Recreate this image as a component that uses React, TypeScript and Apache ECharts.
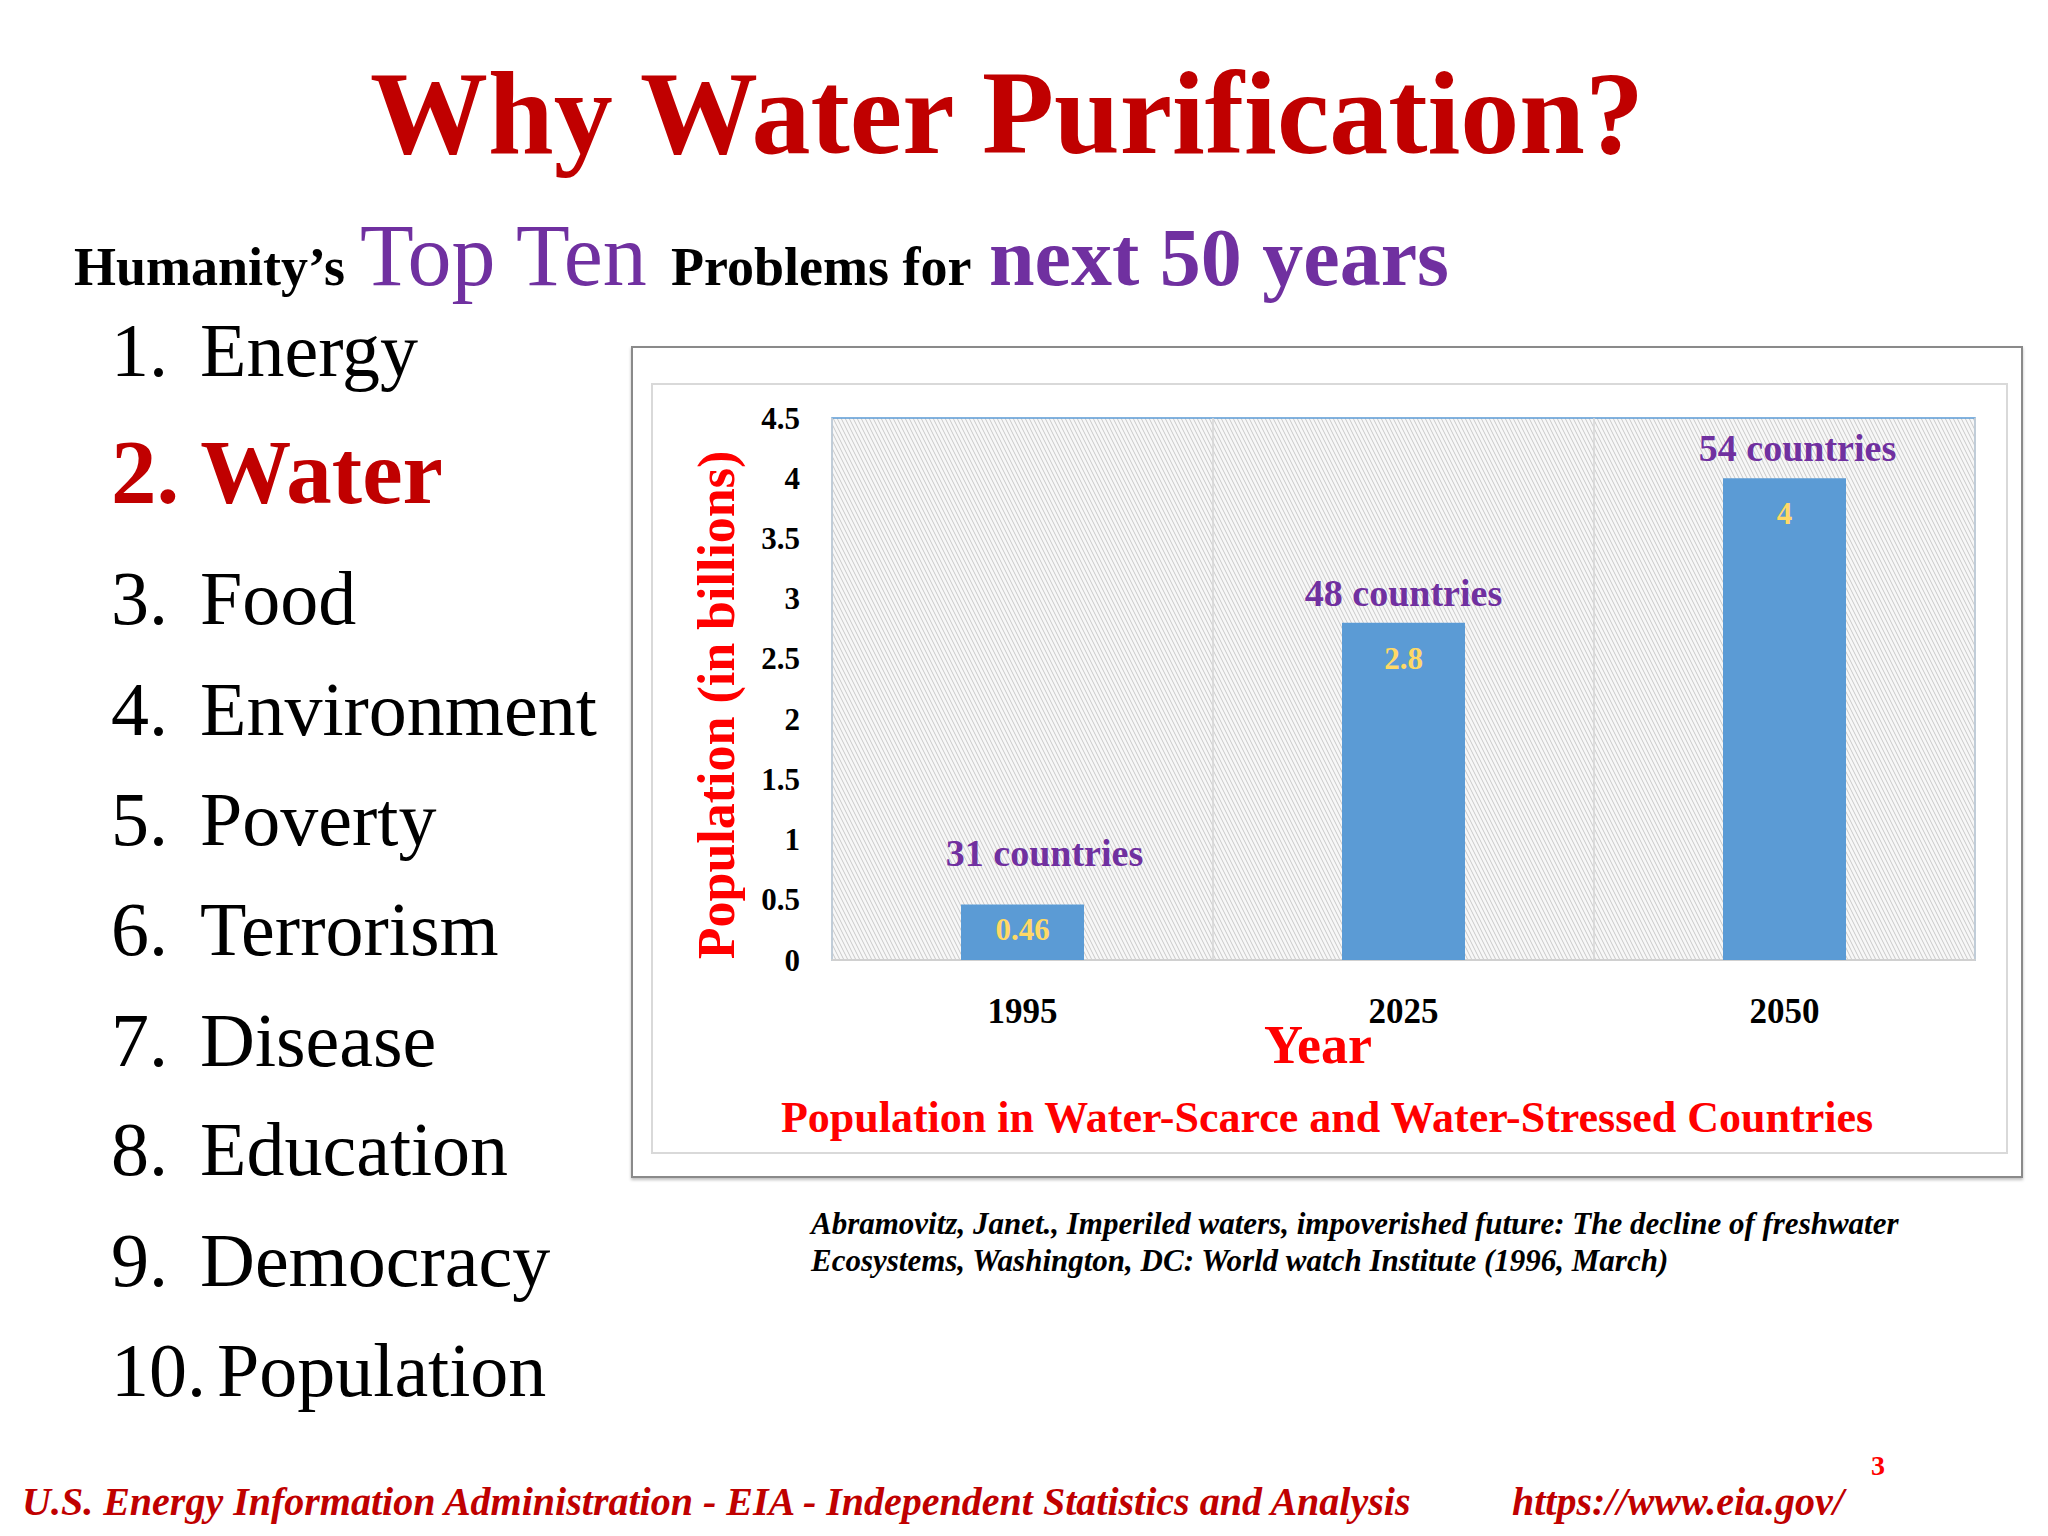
import { useEffect, useRef } from 'react';
import * as echarts from 'echarts';

// ---- data ----
const years = ['1995', '2025', '2050'];
const populationBillions = [0.46, 2.8, 4];
const countryCounts = [31, 48, 54];
const yMin = 0;
const yMax = 4.5;
const yInterval = 0.5;
const problems = ['Energy', 'Water', 'Food', 'Environment', 'Poverty', 'Terrorism', 'Disease', 'Education', 'Democracy', 'Population'];

// ---- styles ----
const countryLabelOffsets = [[22, -22], [0, 0], [13, 0]];
const valueLabelDistances = [9, 20, 20];
const listBaselines = [376, 503, 624, 735, 845, 955, 1066, 1175, 1286, 1396];
const SERIF = '"Liberation Serif", "Times New Roman", serif';
const DARK_RED = '#C00000';
const RED = '#FF0000';
const PURPLE = '#7030A0';
const BAR_BLUE = '#5B9BD5';

function txt(text: string, x: number, baseline: number, size: number, color: string, opts: any = {}) {
  return {
    type: 'text',
    x,
    y: baseline - 0.34 * size,
    silent: true,
    z: 10,
    style: {
      text,
      fill: color,
      fontSize: size,
      fontFamily: SERIF,
      fontWeight: opts.weight || 'normal',
      fontStyle: opts.style || 'normal',
      textAlign: opts.align || 'left',
      textVerticalAlign: 'middle',
    },
  };
}

function makeHatch() {
  const c = document.createElement('canvas');
  c.width = 4;
  c.height = 8;
  const ctx = c.getContext('2d')!;
  ctx.fillStyle = '#f7f7f7';
  ctx.fillRect(0, 0, 4, 8);
  ctx.strokeStyle = '#c9c9c9';
  ctx.lineWidth = 1;
  for (const dx of [-4, 0, 4]) {
    ctx.beginPath();
    ctx.moveTo(dx, 0);
    ctx.lineTo(dx + 4, 8);
    ctx.stroke();
  }
  return c;
}

export default function App() {
  const ref = useRef<HTMLDivElement>(null);

  useEffect(() => {
    if (!ref.current) return;
    const chart = echarts.init(ref.current, null, { renderer: 'svg' });
    const hatch = makeHatch();

    const graphics: any[] = [];
    // outer chart frame
    graphics.push({
      type: 'rect', silent: true, z: -20,
      shape: { x: 632, y: 347, width: 1390, height: 830 },
      style: { fill: '#ffffff', stroke: '#8a8a8a', lineWidth: 2, shadowBlur: 3, shadowColor: 'rgba(0,0,0,0.25)', shadowOffsetY: 2 },
    });
    graphics.push({
      type: 'rect', silent: true, z: -19,
      shape: { x: 652, y: 384, width: 1355, height: 769 },
      style: { fill: '#ffffff', stroke: '#d9d9d9', lineWidth: 2 },
    });

    // title
    graphics.push(txt('Why Water Purification?', 1007, 154, 118, DARK_RED, { weight: 'bold', align: 'center' }));
    // subtitle
    graphics.push(txt('Humanity\u2019s', 74, 285, 54, '#000000', { weight: 'bold' }));
    graphics.push(txt('Top Ten', 360, 285, 88, PURPLE, {}));
    graphics.push(txt('Problems for', 671, 285, 54, '#000000', { weight: 'bold' }));
    graphics.push(txt('next 50 years', 989, 285, 82, PURPLE, { weight: 'bold' }));

    // list
    problems.forEach((p, i) => {
      const b = listBaselines[i];
      if (i === 1) {
        graphics.push(txt(`${i + 1}. ${p}`, 111, b, 91, DARK_RED, { weight: 'bold' }));
      } else if (i === 9) {
        graphics.push(txt(`${i + 1}.`, 111, b, 76, '#000000'));
        graphics.push(txt(p, 217, b, 76, '#000000'));
      } else {
        graphics.push(txt(`${i + 1}.`, 111, b, 76, '#000000'));
        graphics.push(txt(p, 200, b, 76, '#000000'));
      }
    });

    // chart texts
    graphics.push({
      type: 'text', silent: true, z: 10,
      x: 716, y: 705, rotation: Math.PI / 2,
      style: {
        text: 'Population (in billions)', fill: RED, fontSize: 52, fontFamily: SERIF, fontWeight: 'bold',
        textAlign: 'center', textVerticalAlign: 'middle',
      },
    });
    graphics.push({
      type: 'text', silent: true, z: 10, x: 1318, y: 1045,
      style: { text: 'Year', fill: RED, fontSize: 54, fontFamily: SERIF, fontWeight: 'bold', textAlign: 'center', textVerticalAlign: 'middle' },
    });
    graphics.push({
      type: 'text', silent: true, z: 10, x: 1327, y: 1117,
      style: { text: 'Population in Water-Scarce and Water-Stressed Countries', fill: RED, fontSize: 44, fontFamily: SERIF, fontWeight: 'bold', textAlign: 'center', textVerticalAlign: 'middle' },
    });

    // citation
    graphics.push(txt('Abramovitz, Janet., Imperiled waters, impoverished future: The decline of freshwater', 811, 1234, 31, '#000000', { weight: 'bold', style: 'italic' }));
    graphics.push(txt('Ecosystems, Washington, DC: World watch Institute (1996, March)', 811, 1271, 31, '#000000', { weight: 'bold', style: 'italic' }));

    // footer
    graphics.push(txt('U.S. Energy Information Administration - EIA - Independent Statistics and Analysis', 22, 1515, 40, DARK_RED, { weight: 'bold', style: 'italic' }));
    graphics.push(txt('https://www.eia.gov/', 1512, 1515, 40, DARK_RED, { weight: 'bold', style: 'italic' }));
    graphics.push(txt('3', 1878, 1475, 28, RED, { weight: 'bold', align: 'center' }));

    const option: any = {
      animation: false,
      backgroundColor: '#ffffff',
      grid: {
        left: 832, right: 73, top: 418, bottom: 576,
        show: true,
        backgroundColor: { image: hatch, repeat: 'repeat', imageWidth: 4, imageHeight: 8 },
        borderColor: BAR_BLUE,
        borderWidth: 1.5,
      },
      xAxis: {
        type: 'category',
        data: years,
        axisLine: { show: true, lineStyle: { color: '#d0d0d0', width: 2 } },
        axisTick: { show: false },
        splitLine: { show: true, lineStyle: { color: '#d6d6d6', width: 1.5 } },
        axisLabel: { color: '#000', fontSize: 35, fontWeight: 'bold', fontFamily: SERIF, margin: 34 },
      },
      yAxis: {
        type: 'value',
        min: yMin,
        max: yMax,
        interval: yInterval,
        axisLine: { show: false },
        axisTick: { show: false },
        splitLine: { show: false },
        axisLabel: { color: '#000', fontSize: 31, fontWeight: 'bold', fontFamily: SERIF, margin: 32 },
      },
      series: [
        {
          type: 'bar',
          data: populationBillions.map((v, i) => ({
            value: v,
            label: { distance: valueLabelDistances[i] },
          })),
          barWidth: 123,
          itemStyle: { color: BAR_BLUE },
          z: 3,
          label: {
            show: true,
            position: 'insideTop',
            distance: 20,
            color: '#FFD966',
            fontSize: 31,
            fontFamily: SERIF,
            fontWeight: 'bold',
          },
        },
        {
          type: 'bar',
          data: populationBillions.map((v, i) => ({
            value: v,
            label: { offset: countryLabelOffsets[i] },
          })),
          barWidth: 123,
          barGap: '-100%',
          silent: true,
          itemStyle: { color: 'rgba(0,0,0,0)' },
          z: 4,
          label: {
            show: true,
            position: 'top',
            distance: 11,
            color: PURPLE,
            fontSize: 38,
            fontFamily: SERIF,
            fontWeight: 'bold',
            formatter: (p: any) => `${countryCounts[p.dataIndex]} countries`,
          },
        },
      ],
      graphic: graphics,
    };

    chart.setOption(option);
    return () => chart.dispose();
  }, []);

  return (
    <div
      ref={ref}
      style={{ position: 'absolute', left: 0, top: 0, width: 2048, height: 1536, background: '#ffffff' }}
    />
  );
}
